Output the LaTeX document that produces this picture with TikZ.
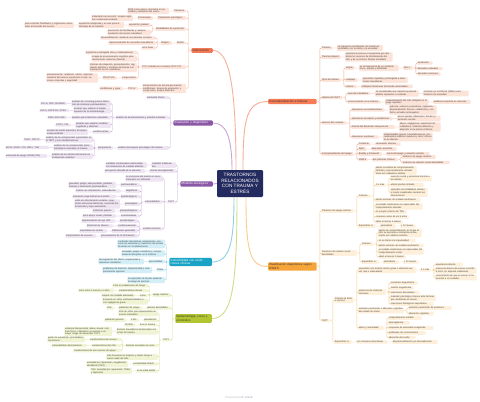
\documentclass[tikz,border=0pt]{standalone}
\usepackage{fontspec}
\setmainfont{Liberation Sans}
\usepackage{xcolor}
\usepackage{tikz}
\usetikzlibrary{calc,positioning}

\definecolor{ctrMain}{HTML}{242B5E}
\definecolor{intMain}{HTML}{F47A55}
\definecolor{intLight}{HTML}{FDE4DA}
\definecolor{intLine}{HTML}{F7B09A}
\definecolor{hisMain}{HTML}{F57C55}
\definecolor{hisLight}{HTML}{FCE3D8}
\definecolor{hisLine}{HTML}{F6AE92}
\definecolor{evaMain}{HTML}{8A58A6}
\definecolor{evaLight}{HTML}{EEE4F2}
\definecolor{evaLine}{HTML}{C7A6D8}
\definecolor{comMain}{HTML}{1AA3C4}
\definecolor{comLight}{HTML}{D3EEF7}
\definecolor{comLine}{HTML}{8FD0E3}
\definecolor{epiMain}{HTML}{B3C632}
\definecolor{epiLight}{HTML}{F1F4D4}
\definecolor{epiLine}{HTML}{D2DC8C}
\definecolor{dsmMain}{HTML}{F6A53A}
\definecolor{dsmLight}{HTML}{FDEFD9}
\definecolor{dsmLine}{HTML}{F8CD8E}

\begin{document}
\begin{tikzpicture}[x=1pt,y=-1pt]

	\tikzstyle{leaf} = [rounded corners=0.8pt, inner sep=0.7pt, align=left,
		text=black!75, font=\fontsize{2.3}{2.8}\selectfont]
	\tikzstyle{main} = [rounded corners=1pt, inner sep=1.2pt, align=left,
		font=\fontsize{3}{3.6}\selectfont]
	\tikzstyle{centre} = [fill=ctrMain, text=white, rounded corners=1.2pt, align=center,
		minimum width=46pt, minimum height=27pt, inner sep=1pt, font=\fontsize{4.7}{5.6}\selectfont]
	\tikzstyle{li} = [leaf, fill=intLight, anchor=east]
	\tikzstyle{le} = [leaf, fill=evaLight, anchor=east]
	\tikzstyle{lc} = [leaf, fill=comLight, anchor=east]
	\tikzstyle{lp} = [leaf, fill=epiLight, anchor=east]
	\tikzstyle{rh} = [leaf, fill=hisLight, anchor=west]
	\tikzstyle{rd} = [leaf, fill=dsmLight, anchor=west]
	\tikzstyle{toleft} = [to path={-- ++(-3,0) |- (\tikztotarget)}]
	\tikzstyle{toright} = [to path={-- ++(3,0) |- (\tikztotarget)}]
	\tikzstyle{edge} = [line width=0.4pt, rounded corners=1.2pt]
	\tikzstyle{trunk} = [line width=0.9pt]

	\fill [white] (0,0) rectangle (480,402);
	\useasboundingbox (0,0) rectangle (480,402);

	% Place nodes
	\node [centre] at (240,183.5) (ctr) {TRASTORNOS\\RELACIONADOS\\CON TRAUMA Y\\ESTRÉS};

	\node [main, fill=intMain, text=black!80, anchor=east, text width=19pt] at (213,50.5) (int) {Intervención};
	\node [main, fill=evaMain, text=white, anchor=east, text width=37pt] at (213,123) (eva) {Evaluación y diagnóstico};
	\node [main, fill=evaMain, text=white, anchor=east, text width=30pt] at (213,184) (mod) {Modelos etiológicos};
	\node [main, fill=comMain, text=white, anchor=east, text width=40pt] at (212,262) (com) {Comorbilidad con condiciones clínicas};
	\node [main, fill=epiMain, text=black!80, anchor=east, text width=34pt] at (212,318.5) (epi) {Epidemiología, curso y pronóstico};
	\node [main, fill=hisMain, text=black!80, anchor=west, text width=46pt] at (268,101.5) (his) {Conceptualización e historia};
	\node [main, fill=dsmMain, text=black!80, anchor=west, text width=46pt] at (268,266.5) (dsm) {Clasificación diagnóstica según DSM-5};

	% Intervencion
	\node [li, text width=11pt] at (186,11) (i1) {Fármacos};
	\node [li, text width=40pt] at (169,11) (i1a) {ISRS como apoyo; prazosina en pesadillas y alteración del sueño};
	\node [li, text width=27pt] at (186,18) (i2) {Tratamiento psicológico};
	\node [li, text width=14pt] at (153,18) (i2a) {Psicoterapia};
	\node [li, text width=40pt] at (133,18) (i2b) {tratamiento de elección: terapia cognitivo conductual centrada};
	\node [li, text width=29pt] at (186,29) (i3) {Modalidades de exposición};
	\node [li, text width=21pt] at (151,25) (i3a) {exposición gradual};
	\node [li, text width=44pt] at (124,25) (i3a1) {exposición imaginada y en vivo para el abordaje de la evitación};
	\node [li, text width=48pt] at (74,25) (i3a1a) {para controlar flashbacks y cogniciones asociadas al recuerdo del suceso};
	\node [li, text width=42pt] at (151,32.5) (i3b) {prevención de flashbacks y reexperimentación del suceso traumático};
	\node [li, text width=8pt] at (186,43) (i4) {EMDR};
	\node [li, text width=10pt] at (172,43) (i4a) {Shapiro};
	\node [li, text width=54pt] at (156,38) (i4a1) {desensibilización mediante movimientos oculares};
	\node [li, text width=46pt] at (156,43) (i4a2) {reprocesamiento de recuerdos traumáticos};
	\node [li, text width=13pt] at (156,48) (i4a3) {ocho fases};
	\node [li, text width=43pt] at (186,67) (i5) {TCC centrada en el trauma (TCC-CT)};
	\node [li, text width=50pt] at (137,52.5) (i5a) {exposición prolongada (Foa y colaboradores)};
	\node [li, text width=44pt] at (137,58.5) (i5b) {terapia de procesamiento cognitivo para reestructurar creencias (Resick)};
	\node [li, text width=46pt] at (137,67.5) (i5c) {técnicas de relajación, psicoeducación, regulación afectiva y narrativa del trauma con implicación de los cuidadores};
	\node [li, text width=14pt] at (137,78) (i5d) {componentes};
	\node [li, text width=13pt] at (117,78) (i5d1) {PRACTICE};
	\node [li, text width=50pt] at (98,78) (i5d2) {psicoeducación, relajación, afecto, cognición, narrativa del trauma, exposición in vivo, sesiones conjuntas y seguridad};
	\node [li, text width=42pt] at (186,88.5) (i6) {intervenciones de tercera generación: mindfulness, terapia de aceptación y compromiso, terapia dialéctica};
	\node [li, text width=9pt] at (138,88.5) (i6a) {TCC-G};
	\node [li, text width=22pt] at (123,88.5) (i6a1) {mindfulness y yoga};

	% Evaluacion y diagnostico
	\node [le, text width=21pt] at (169,97.5) (e1) {entrevista clínica};
	\node [le, text width=52pt] at (169,117.5) (e2) {análisis de acontecimientos y estados mentales};
	\node [le, text width=38pt] at (111,103.5) (e2a) {pruebas de screening para la detección de síntomas postraumáticos};
	\node [le, text width=25pt] at (67,103.5) (e2a1) {PCL-5, PDS, SCARED};
	\node [le, text width=36pt] at (111,110.5) (e2b) {pruebas que evalúan el amplio espectro de la sintomatología};
	\node [le, text width=28pt] at (69,110.5) (e2b1) {LEC-5, CAPS-CA, CPSS};
	\node [le, text width=38pt] at (111,117.5) (e2c) {pruebas para trastornos asociados};
	\node [le, text width=18pt] at (67,117.5) (e2c1) {ASDI, ASC-Kids};
	\node [le, text width=34pt] at (111,125) (e2d) {pruebas que evalúan variables cognitivas y afectivas};
	\node [le, text width=14pt] at (71,125) (e2d1) {CPTCI, CDI};
	\node [le, text width=17pt] at (111,132) (e2e) {condicionantes};
	\node [le, text width=40pt] at (88,132) (e2e1) {escalas de estrés parental y de apoyo social percibido};
	\node [le, text width=50pt] at (169,148) (e3) {análisis del impacto psicológico del trauma};
	\node [le, text width=14pt] at (113,148) (e3a) {perspectivas};
	\node [le, text width=46pt] at (93,139.5) (e3a1) {análisis de los componentes expresados en el TEPT y sus manifestaciones};
	\node [le, text width=16pt] at (41,139.5) (e3a1a) {TSCC, TSCYC};
	\node [le, text width=38pt] at (93,147.5) (e3a2) {análisis de los componentes psicopatológicos asociados al trauma};
	\node [le, text width=42pt] at (49,147.5) (e3a2a) {IES-R, STAIC, CDI, CBCL, YSR};
	\node [le, text width=40pt] at (93,156) (e3a3) {análisis de los efectos del trauma en el desarrollo evolutivo};
	\node [le, text width=40pt] at (47,156) (e3a3a) {entrevista de apego infantil (CAI)};

	% Modelos etiologicos
	\node [le, text width=23pt] at (176,165) (m1) {cuidados inadecuados};
	\node [le, text width=40pt] at (147,165) (m1a) {variables contextuales relacionadas con situaciones de cuidado alterado};
	\node [le, text width=25pt] at (176,171) (m2) {vínculo desorganizado};
	\node [le, text width=39pt] at (145,171) (m2a) {percepción alterada de la atención};
	\node [le, text width=7pt] at (176,202) (m3) {TEPT};
	\node [le, text width=36pt] at (163,178.5) (m3a) {la ocurrencia del evento es necesaria pero no suficiente};
	\node [le, text width=17pt] at (163,202) (m3b) {vulnerabilidad};
	\node [le, text width=18pt] at (140,185) (m3b1) {peritraumáticos};
	\node [le, text width=46pt] at (116,185) (m3b1a) {gravedad, peligro vital percibido, pérdidas, lesiones y disociación peritraumática};
	\node [le, text width=13pt] at (140,191) (m3b2) {biográficos};
	\node [le, text width=44pt] at (121,191) (m3b2a) {historia de victimización, antecedentes};
	\node [le, text width=18pt] at (140,196.5) (m3b3) {psicobiológicos};
	\node [le, text width=42pt] at (116,196.5) (m3b3a) {activación, baja tolerancia al estrés};
	\node [le, text width=14pt] at (140,204) (m3b4) {psicológicos};
	\node [le, text width=44pt] at (120,204) (m3b4a) {estilo de afrontamiento evitativo, regulación emocional deficiente, creencias disfuncionales y baja autoestima};
	\node [le, text width=19pt] at (140,211) (m3b5) {psicopatológicos};
	\node [le, text width=21pt] at (115,211) (m3b5a) {trastornos previos};
	\node [le, text width=18pt] at (140,216) (m3b6) {sociofamiliares};
	\node [le, text width=32pt] at (116,216) (m3b6a) {poco apoyo social y familiar};
	\node [le, text width=19pt] at (163,229) (m3c) {modelos teóricos};
	\node [le, text width=17pt] at (138,221) (m3c1) {psicobiológico};
	\node [le, text width=32pt] at (115,221) (m3c1a) {hiperactivación del eje HPA};
	\node [le, text width=19pt] at (138,226) (m3c2) {condicionamiento};
	\node [le, text width=25pt] at (113,226) (m3c2a) {bifactorial de Mowrer};
	\node [le, text width=25pt] at (138,231) (m3c3) {indefensión aprendida};
	\node [le, text width=26pt] at (107,231) (m3c3a) {expectativa de control};
	\node [le, text width=36pt] at (138,236) (m3c4) {procesamiento de la información};
	\node [le, text width=29pt] at (96,236) (m3c4a) {interpretación de sucesos};

	% Comorbilidad
	\node [lc, text width=46pt] at (165,244) (c1) {conductas disociativas, autolesiones, consumo de sustancias y trastornos del estado de ánimo en la adolescencia};
	\node [lc, text width=42pt] at (165,253.5) (c2) {ansiedad, quejas somáticas y comportamiento disruptivo en la infancia};
	\node [lc, text width=15pt] at (165,261.5) (c3) {personalidad};
	\node [lc, text width=44pt] at (144,261.5) (c3a) {desregulación del afecto, impulsividad y relaciones inestables};
	\node [lc, text width=7pt] at (165,270) (c4) {TDAH};
	\node [lc, text width=48pt] at (152,270) (c4a) {problemas de atención, hiperactividad y comportamiento agresivo};
	\node [lc, text width=36pt] at (165,280) (c5) {la exposición al trauma aumenta el riesgo de psicosis};

	% Epidemiologia
	\node [lp, text width=17pt] at (171,295) (p1) {apego reactivo};
	\node [lp, text width=34pt] at (148,285.5) (p1a) {1-4\% en poblaciones de riesgo};
	\node [lp, text width=28pt] at (148,290.5) (p1b) {características clínicas};
	\node [lp, text width=34pt] at (114,290.5) (p1b1) {inicio entre 9 meses y 5 años};
	\node [lp, text width=7pt] at (148,295.5) (p1c) {curso};
	\node [lp, text width=32pt] at (135,295.5) (p1c1) {mejora con cuidado adecuado};
	\node [lp, text width=44pt] at (148,301.5) (p1d) {frecuente en niños institucionalizados o con negligencia grave};
	\node [lp, text width=23pt] at (171,308) (p2) {relación desinhibida};
	\node [lp, text width=22pt] at (142,308) (p2a) {población de riesgo};
	\node [lp, text width=6pt] at (114,308) (p2a1) {20\%};
	\node [lp, text width=7pt] at (171,340) (p3) {TEPT};
	\node [lp, text width=38pt] at (158,313.5) (p3a) {50\% de niños que experimentan un suceso traumático};
	\node [lp, text width=13pt] at (158,320) (p3b) {prevalencia};
	\node [lp, text width=7pt] at (139,320) (p3b1) {1-6\%};
	\node [lp, text width=20pt] at (126,320) (p3b2) {población general};
	\node [lp, text width=17pt] at (158,325) (p3c) {tras un trauma};
	\node [lp, text width=9pt] at (135,325) (p3c1) {15-40\%};
	\node [lp, text width=40pt] at (158,331.5) (p3d) {factores traumáticos relacionados con el tipo de trauma};
	\node [lp, text width=46pt] at (112,331.5) (p3d1) {violencia interpersonal, abuso sexual, maltrato físico y abandono se asocian a un mayor riesgo de desarrollar TEPT};
	\node [lp, text width=31pt] at (158,345.5) (p3e) {factores asociados al curso};
	\node [lp, text width=30pt] at (121,339.5) (p3e1) {características del suceso};
	\node [lp, text width=36pt] at (85,339.5) (p3e1a) {grado de exposición, proximidad y recurrencia};
	\node [lp, text width=28pt] at (121,345.5) (p3e2) {características del niño};
	\node [lp, text width=34pt] at (87,345.5) (p3e2a) {vulnerabilidad, afrontamiento};
	\node [lp, text width=46pt] at (121,350.5) (p3e3) {características de los recursos de apoyo};
	\node [lp, text width=50pt] at (158,357) (p3f) {más frecuente en mujeres y mayor riesgo a menor edad del niño};
	\node [lp, text width=24pt] at (158,364) (p3g) {comorbilidad infantil};
	\node [lp, text width=40pt] at (128,364) (p3g1) {ansiedad por separación, negativismo desafiante (TND)};
	\node [lp, text width=20pt] at (158,371) (p3h) {en la edad adulta};
	\node [lp, text width=40pt] at (132,371) (p3h1) {TAG, ansiedad por separación, TDAH y depresión};

	% Conceptualizacion e historia
	\node [rh, text width=10pt] at (321,48) (h1) {Término};
	\node [rh, text width=44pt] at (337,48) (h1a) {se agruparon inicialmente los trastornos vinculados con el estrés y la ansiedad};
	\node [rh, text width=18pt] at (321,57) (h2) {Trauma psíquico};
	\node [rh, text width=46pt] at (345,57) (h2a) {experiencia intensa e inesperada que desborda los recursos de afrontamiento del niño y de su entorno familiar inmediato};
	\node [rh, text width=18pt] at (321,80) (h3) {Tipos de trauma};
	\node [rh, text width=8pt] at (345,68) (h3a) {simple};
	\node [rh, text width=38pt] at (359,68) (h3a1) {es consecuencia de un incidente único, aislado y delimitado};
	\node [rh, text width=8pt] at (403,68) (h3a1a) {Tipo I};
	\node [rh, text width=14pt] at (417,63) (h3a1a1) {accidentes};
	\node [rh, text width=24pt] at (417,68.5) (h3a1a2) {desastres naturales};
	\node [rh, text width=22pt] at (417,74) (h3a1a3) {desastres humanos};
	\node [rh, text width=11pt] at (345,80) (h3b) {complejo};
	\node [rh, text width=44pt] at (362,80) (h3b1) {exposición repetida y prolongada a situaciones traumáticas};
	\node [rh, text width=10pt] at (345,86.5) (h3c) {crónico};
	\node [rh, text width=50pt] at (361,86.5) (h3c1) {múltiples situaciones de trauma acumuladas};
	\node [rh, text width=20pt] at (321,97.5) (h4) {Historia del TEPT};
	\node [rh, text width=22pt] at (347,93.5) (h4a) {neurosis traumática};
	\node [rh, text width=42pt] at (375,93.5) (h4a1) {se consideraba una reacción propia de adultos expuestos a combate};
	\node [rh, text width=44pt] at (423,93.5) (h4a2) {inclusión en el DSM-III (1980) como trastorno de ansiedad};
	\node [rh, text width=32pt] at (347,102) (h4b) {reconocimiento en la infancia};
	\node [rh, text width=42pt] at (385,102) (h4b1) {comportamiento del niño reflejado en el juego repetitivo};
	\node [rh, text width=36pt] at (433,102) (h4b2) {evidencia empírica en menores};
	\node [rh, text width=24pt] at (321,123) (h5) {factores del contexto};
	\node [rh, text width=32pt] at (351,110) (h5a) {situaciones socioambientales};
	\node [rh, text width=46pt] at (389,110) (h5a1) {pobreza, violencia comunitaria, migración, desplazamiento forzoso, catástrofes y conflictos armados prolongados};
	\node [rh, text width=40pt] at (351,118.5) (h5b) {situaciones escolares y académicas};
	\node [rh, text width=42pt] at (397,118.5) (h5b1) {acoso escolar, ciberacoso, fracaso y exclusión escolar};
	\node [rh, text width=42pt] at (351,127) (h5c) {historia del desarrollo interpersonal};
	\node [rh, text width=40pt] at (399,127) (h5c1) {abuso, negligencia, separación de cuidadores, institucionalización y adopción en la primera infancia};
	\node [rh, text width=26pt] at (351,137) (h5d) {situaciones sanitarias};
	\node [rh, text width=48pt] at (383,137) (h5d1) {enfermedades graves, hospitalizaciones, procedimientos médicos invasivos y dolor crónico en la infancia};
	\node [rh, text width=31pt] at (321,154) (h6) {Conceptualización del apego};
	\node [rh, text width=11pt] at (358,144) (h6a) {Conducta};
	\node [rh, text width=24pt] at (375,144) (h6a1) {vinculación afectiva};
	\node [rh, text width=7pt] at (358,149) (h6b) {Spitz};
	\node [rh, text width=24pt] at (371,149) (h6b1) {depresión anaclítica};
	\node [rh, text width=22pt] at (358,154) (h6c) {Bowlby y Ainsworth};
	\node [rh, text width=42pt] at (386,154) (h6c1) {teoría del apego y situación extraña};
	\node [rh, text width=8pt] at (358,159.5) (h6d) {DSM-5};
	\node [rh, text width=24pt] at (372,159.5) (h6d1) {dos patrones clínicos};
	\node [rh, text width=32pt] at (402,157) (h6d1a) {trastorno de apego reactivo};
	\node [rh, text width=46pt] at (402,162.5) (h6d1b) {trastorno de relación social desinhibida};

	% Clasificacion DSM-5
	\node [rd, text width=31pt] at (321,211) (d1) {Trastorno de apego reactivo};
	\node [rd, text width=11pt] at (358,196) (d1a) {Criterios};
	\node [rd, text width=40pt] at (375,170.5) (d1a1) {patrón constante de comportamiento inhibido y emocionalmente retraído hacia los cuidadores adultos};
	\node [rd, text width=9pt] at (375,185) (d1a2) {2 o más};
	\node [rd, text width=40pt] at (390,178.5) (d1a2a) {reacción social y emocional mínima a los demás};
	\node [rd, text width=32pt] at (390,185) (d1a2b) {afecto positivo limitado};
	\node [rd, text width=36pt] at (390,192.5) (d1a2c) {episodios de irritabilidad, tristeza o miedo inexplicados durante las interacciones};
	\node [rd, text width=44pt] at (375,200) (d1a3) {patrón extremo de cuidado insuficiente};
	\node [rd, text width=46pt] at (375,206.5) (d1a4) {el cuidado insuficiente es responsable del comportamiento alterado};
	\node [rd, text width=30pt] at (375,212) (d1a5) {no cumple criterios de TEA};
	\node [rd, text width=32pt] at (375,217) (d1a6) {comienzo antes de los 5 años};
	\node [rd, text width=26pt] at (375,222) (d1a7) {edad al menos 9 meses};
	\node [rd, text width=16pt] at (358,226) (d1b) {Especificar si};
	\node [rd, text width=14pt] at (380,226) (d1b1) {persistente};
	\node [rd, text width=14pt] at (400,226) (d1b2) {> 12 meses};
	\node [rd, text width=34pt] at (321,253) (d2) {Trastorno de relación social desinhibida};
	\node [rd, text width=11pt] at (361,244) (d2a) {Criterios};
	\node [rd, text width=42pt] at (378,233) (d2a1) {patrón de comportamiento en el que el niño se aproxima e interactúa activamente con adultos extraños};
	\node [rd, text width=36pt] at (378,240.5) (d2a2) {no se limita a la impulsividad};
	\node [rd, text width=44pt] at (378,245.5) (d2a3) {patrón extremo de cuidado insuficiente};
	\node [rd, text width=44pt] at (378,251.5) (d2a4) {el cuidado insuficiente es responsable del comportamiento social};
	\node [rd, text width=26pt] at (378,257) (d2a5) {edad al menos 9 meses};
	\node [rd, text width=16pt] at (361,262) (d2b) {Especificar si};
	\node [rd, text width=14pt] at (383,262) (d2b1) {persistente};
	\node [rd, text width=14pt] at (403,262) (d2b2) {> 12 meses};
	\node [rd, text width=7pt] at (321,320.5) (d3) {TEPT};
	\node [rd, text width=18pt] at (334,300) (d3a) {Criterios (6 años o menos)};
	\node [rd, text width=56pt] at (358,270) (d3a1) {exposición a la muerte, lesión grave o violencia sexual, real o amenazada};
	\node [rd, text width=9pt] at (420,270) (d3a1a) {1 o más};
	\node [rd, text width=26pt] at (435,264.5) (d3a1a1) {experiencia directa};
	\node [rd, text width=40pt] at (435,270.5) (d3a1a2) {presencia directa del suceso ocurrido a otros, en especial cuidadores};
	\node [rd, text width=40pt] at (435,277.5) (d3a1a3) {conocimiento de que el suceso le ha ocurrido a un cuidador};
	\node [rd, text width=26pt] at (358,292) (d3a2) {presencia de síntomas intrusivos};
	\node [rd, text width=26pt] at (390,283) (d3a2a) {recuerdos angustiosos};
	\node [rd, text width=22pt] at (390,288) (d3a2b) {sueños angustiosos};
	\node [rd, text width=28pt] at (390,292.5) (d3a2c) {reacciones disociativas};
	\node [rd, text width=44pt] at (390,298) (d3a2d) {malestar psicológico intenso ante factores que simbolizan el suceso};
	\node [rd, text width=42pt] at (390,304) (d3a2e) {reacciones fisiológicas importantes};
	\node [rd, text width=44pt] at (358,310.5) (d3a3) {evitación persistente o alteración cognitiva del estado de ánimo};
	\node [rd, text width=42pt] at (408,308) (d3a3a) {evitación persistente de estímulos};
	\node [rd, text width=24pt] at (408,313.5) (d3a3b) {alteración cognitiva};
	\node [rd, text width=24pt] at (358,328) (d3a4) {alerta y reactividad};
	\node [rd, text width=32pt] at (388,318) (d3a4a) {comportamiento irritable};
	\node [rd, text width=20pt] at (388,323) (d3a4b) {hipervigilancia};
	\node [rd, text width=44pt] at (388,328) (d3a4c) {respuesta de sobresalto exagerada};
	\node [rd, text width=36pt] at (388,333) (d3a4d) {problemas de concentración};
	\node [rd, text width=26pt] at (388,337.5) (d3a4e) {alteración del sueño};
	\node [rd, text width=16pt] at (334,342) (d3b) {Especificar si};
	\node [rd, text width=30pt] at (356,342) (d3b1) {con síntomas disociativos};
	\node [rd, text width=44pt] at (392,342) (d3b2) {despersonalización y/o desrealización};

	\node [font=\fontsize{2.8}{3.2}\selectfont, text=gray!55] at (239,397) (foot)
		{Presented with \textcolor{evaMain!70}{xmind}};

	% Draw edges
	\draw [trunk, intLine] ([xshift=-4pt]ctr.north) .. controls +(0,-90) and +(15,0) .. (int.east);
	\draw [trunk, hisLine] ([xshift=3pt]ctr.north) .. controls +(0,-50) and +(-22,0) .. (his.west);
	\draw [trunk, evaLine] ([xshift=-8pt]ctr.north) .. controls +(0,-35) and +(12,0) .. (eva.east);
	\draw [trunk, evaLine] (ctr.west) -- (mod.east);
	\draw [trunk, comLine] ([xshift=-6pt]ctr.south) .. controls +(0,45) and +(18,0) .. (com.east);
	\draw [trunk, epiLine] ([xshift=-3pt]ctr.south) .. controls +(0,90) and +(20,0) .. (epi.east);
	\draw [trunk, dsmLine] ([xshift=6pt]ctr.south) .. controls +(0,55) and +(-18,0) .. (dsm.west);

	\path [edge, draw=intLine] (int.west) to[toleft] (i1.east) (int.west) to[toleft] (i2.east)
		(int.west) to[toleft] (i3.east) (int.west) to[toleft] (i4.east)
		(int.west) to[toleft] (i5.east) (int.west) to[toleft] (i6.east);
	\path [edge, draw=intLine] (i1.west) -- (i1a.east) (i2.west) -- (i2a.east) (i2a.west) -- (i2b.east)
		(i3.west) to[toleft] (i3a.east) (i3.west) to[toleft] (i3b.east)
		(i3a.west) -- (i3a1.east) (i3a1.west) -- (i3a1a.east) (i4.west) -- (i4a.east)
		(i4a.west) to[toleft] (i4a1.east) (i4a.west) to[toleft] (i4a2.east) (i4a.west) to[toleft] (i4a3.east)
		(i5.west) to[toleft] (i5a.east) (i5.west) to[toleft] (i5b.east)
		(i5.west) to[toleft] (i5c.east) (i5.west) to[toleft] (i5d.east)
		(i5d.west) -- (i5d1.east) (i5d1.west) -- (i5d2.east) (i6.west) -- (i6a.east) (i6a.west) -- (i6a1.east);

	\path [edge, draw=evaLine] (eva.west) to[toleft] (e1.east) (eva.west) to[toleft] (e2.east)
		(eva.west) to[toleft] (e3.east);
	\path [edge, draw=evaLine] (e2.west) to[toleft] (e2a.east) (e2.west) to[toleft] (e2b.east)
		(e2.west) to[toleft] (e2c.east) (e2.west) to[toleft] (e2d.east) (e2.west) to[toleft] (e2e.east)
		(e2a.west) -- (e2a1.east) (e2b.west) -- (e2b1.east) (e2c.west) -- (e2c1.east)
		(e2d.west) -- (e2d1.east) (e2e.west) -- (e2e1.east) (e3.west) -- (e3a.east)
		(e3a.west) to[toleft] (e3a1.east) (e3a.west) to[toleft] (e3a2.east) (e3a.west) to[toleft] (e3a3.east)
		(e3a1.west) -- (e3a1a.east) (e3a2.west) -- (e3a2a.east) (e3a3.west) -- (e3a3a.east);

	\path [edge, draw=evaLine] (mod.west) to[toleft] (m1.east) (mod.west) to[toleft] (m2.east)
		(mod.west) to[toleft] (m3.east);
	\path [edge, draw=evaLine] (m1.west) -- (m1a.east) (m2.west) -- (m2a.east)
		(m3.west) to[toleft] (m3a.east) (m3.west) to[toleft] (m3b.east) (m3.west) to[toleft] (m3c.east)
		(m3b.west) to[toleft] (m3b1.east) (m3b.west) to[toleft] (m3b2.east) (m3b.west) to[toleft] (m3b3.east)
		(m3b.west) to[toleft] (m3b4.east) (m3b.west) to[toleft] (m3b5.east) (m3b.west) to[toleft] (m3b6.east)
		(m3b1.west) -- (m3b1a.east) (m3b2.west) -- (m3b2a.east) (m3b3.west) -- (m3b3a.east)
		(m3b4.west) -- (m3b4a.east) (m3b5.west) -- (m3b5a.east) (m3b6.west) -- (m3b6a.east)
		(m3c.west) to[toleft] (m3c1.east) (m3c.west) to[toleft] (m3c2.east)
		(m3c.west) to[toleft] (m3c3.east) (m3c.west) to[toleft] (m3c4.east)
		(m3c1.west) -- (m3c1a.east) (m3c2.west) -- (m3c2a.east) (m3c3.west) -- (m3c3a.east) (m3c4.west) -- (m3c4a.east);

	\path [edge, draw=comLine] (com.west) to[toleft] (c1.east) (com.west) to[toleft] (c2.east)
		(com.west) to[toleft] (c3.east) (com.west) to[toleft] (c4.east) (com.west) to[toleft] (c5.east)
		(c3.west) -- (c3a.east) (c4.west) -- (c4a.east);

	\path [edge, draw=epiLine] (epi.west) to[toleft] (p1.east) (epi.west) to[toleft] (p2.east)
		(epi.west) to[toleft] (p3.east);
	\path [edge, draw=epiLine] (p1.west) to[toleft] (p1a.east) (p1.west) to[toleft] (p1b.east)
		(p1.west) to[toleft] (p1c.east) (p1.west) to[toleft] (p1d.east)
		(p1b.west) -- (p1b1.east) (p1c.west) -- (p1c1.east)
		(p2.west) -- (p2a.east) (p2a.west) -- (p2a1.east)
		(p3.west) to[toleft] (p3a.east) (p3.west) to[toleft] (p3b.east) (p3.west) to[toleft] (p3c.east)
		(p3.west) to[toleft] (p3d.east) (p3.west) to[toleft] (p3e.east) (p3.west) to[toleft] (p3f.east)
		(p3.west) to[toleft] (p3g.east) (p3.west) to[toleft] (p3h.east)
		(p3b.west) -- (p3b1.east) (p3b1.west) -- (p3b2.east) (p3c.west) -- (p3c1.east)
		(p3d.west) -- (p3d1.east) (p3g.west) -- (p3g1.east) (p3h.west) -- (p3h1.east)
		(p3e.west) to[toleft] (p3e1.east) (p3e.west) to[toleft] (p3e2.east) (p3e.west) to[toleft] (p3e3.east)
		(p3e1.west) -- (p3e1a.east) (p3e2.west) -- (p3e2a.east);

	\path [edge, draw=hisLine] (his.east) to[toright] (h1.west) (his.east) to[toright] (h2.west)
		(his.east) to[toright] (h3.west) (his.east) to[toright] (h4.west)
		(his.east) to[toright] (h5.west) (his.east) to[toright] (h6.west);
	\path [edge, draw=hisLine] (h1.east) -- (h1a.west) (h2.east) -- (h2a.west)
		(h3.east) to[toright] (h3a.west) (h3.east) to[toright] (h3b.west) (h3.east) to[toright] (h3c.west)
		(h3a.east) -- (h3a1.west) (h3a1.east) -- (h3a1a.west)
		(h3a1a.east) to[toright] (h3a1a1.west) (h3a1a.east) to[toright] (h3a1a2.west) (h3a1a.east) to[toright] (h3a1a3.west)
		(h3b.east) -- (h3b1.west) (h3c.east) -- (h3c1.west)
		(h4.east) to[toright] (h4a.west) (h4.east) to[toright] (h4b.west)
		(h4a.east) -- (h4a1.west) (h4a1.east) -- (h4a2.west) (h4b.east) -- (h4b1.west) (h4b1.east) -- (h4b2.west)
		(h5.east) to[toright] (h5a.west) (h5.east) to[toright] (h5b.west)
		(h5.east) to[toright] (h5c.west) (h5.east) to[toright] (h5d.west)
		(h5a.east) -- (h5a1.west) (h5b.east) -- (h5b1.west) (h5c.east) -- (h5c1.west) (h5d.east) -- (h5d1.west)
		(h6.east) to[toright] (h6a.west) (h6.east) to[toright] (h6b.west)
		(h6.east) to[toright] (h6c.west) (h6.east) to[toright] (h6d.west)
		(h6a.east) -- (h6a1.west) (h6b.east) -- (h6b1.west) (h6c.east) -- (h6c1.west) (h6d.east) -- (h6d1.west)
		(h6d1.east) to[toright] (h6d1a.west) (h6d1.east) to[toright] (h6d1b.west);

	\path [edge, draw=dsmLine] (dsm.east) to[toright] (d1.west) (dsm.east) to[toright] (d2.west)
		(dsm.east) to[toright] (d3.west);
	\path [edge, draw=dsmLine] (d1.east) to[toright] (d1a.west) (d1.east) to[toright] (d1b.west)
		(d1a.east) to[toright] (d1a1.west) (d1a.east) to[toright] (d1a2.west) (d1a.east) to[toright] (d1a3.west)
		(d1a.east) to[toright] (d1a4.west) (d1a.east) to[toright] (d1a5.west)
		(d1a.east) to[toright] (d1a6.west) (d1a.east) to[toright] (d1a7.west)
		(d1a2.east) to[toright] (d1a2a.west) (d1a2.east) to[toright] (d1a2b.west) (d1a2.east) to[toright] (d1a2c.west)
		(d1b.east) -- (d1b1.west) (d1b1.east) -- (d1b2.west)
		(d2.east) to[toright] (d2a.west) (d2.east) to[toright] (d2b.west)
		(d2a.east) to[toright] (d2a1.west) (d2a.east) to[toright] (d2a2.west) (d2a.east) to[toright] (d2a3.west)
		(d2a.east) to[toright] (d2a4.west) (d2a.east) to[toright] (d2a5.west)
		(d2b.east) -- (d2b1.west) (d2b1.east) -- (d2b2.west)
		(d3.east) to[toright] (d3a.west) (d3.east) to[toright] (d3b.west)
		(d3a.east) to[toright] (d3a1.west) (d3a.east) to[toright] (d3a2.west)
		(d3a.east) to[toright] (d3a3.west) (d3a.east) to[toright] (d3a4.west)
		(d3a1.east) -- (d3a1a.west)
		(d3a1a.east) to[toright] (d3a1a1.west) (d3a1a.east) to[toright] (d3a1a2.west) (d3a1a.east) to[toright] (d3a1a3.west)
		(d3a2.east) to[toright] (d3a2a.west) (d3a2.east) to[toright] (d3a2b.west) (d3a2.east) to[toright] (d3a2c.west)
		(d3a2.east) to[toright] (d3a2d.west) (d3a2.east) to[toright] (d3a2e.west)
		(d3a3.east) to[toright] (d3a3a.west) (d3a3.east) to[toright] (d3a3b.west)
		(d3a4.east) to[toright] (d3a4a.west) (d3a4.east) to[toright] (d3a4b.west) (d3a4.east) to[toright] (d3a4c.west)
		(d3a4.east) to[toright] (d3a4d.west) (d3a4.east) to[toright] (d3a4e.west)
		(d3b.east) -- (d3b1.west) (d3b1.east) -- (d3b2.west);
\end{tikzpicture}
\end{document}
